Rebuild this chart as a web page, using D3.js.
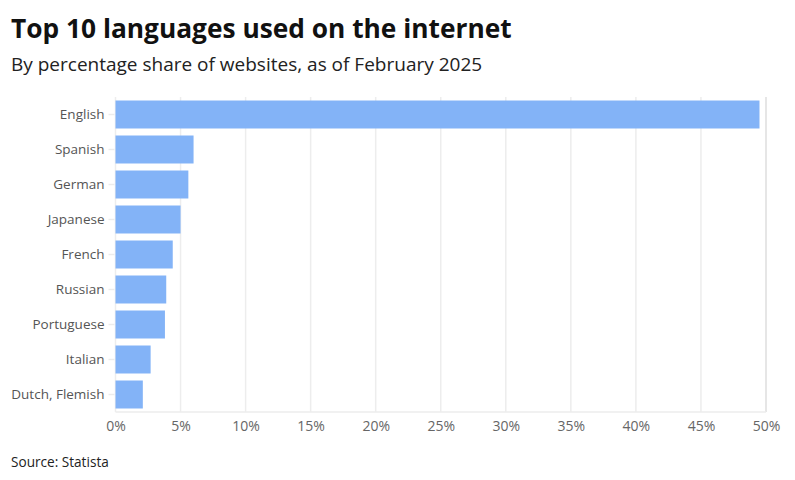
<!DOCTYPE html>
<html>
<head>
<meta charset="utf-8">
<script src="https://cdn.jsdelivr.net/npm/d3@7"></script>
<style>
  body { margin: 0; background: #fff; }
  text { font-family: "Open Sans", "Noto Sans", sans-serif; }
</style>
</head>
<body>
<div id="chart"></div>
<script>
// data
let languages = ['English', 'Spanish', 'German', 'Japanese', 'French', 'Russian', 'Portuguese', 'Italian', 'Dutch, Flemish'];
let shares = [49.5, 6.0, 5.6, 5.0, 4.4, 3.9, 3.8, 2.7, 2.1];
let xTicks = [0, 5, 10, 15, 20, 25, 30, 35, 40, 45, 50];

let W = 795, H = 480;
let margin = { top: 97, left: 115.5, right: 29, bottom: 68 };
let font = '"Open Sans", sans-serif';

let svg = d3.select('#chart').append('svg')
  .attr('width', W)
  .attr('height', H);

let x = d3.scaleLinear()
  .domain([0, 50])
  .range([margin.left, W - margin.right]);

let y = d3.scaleBand()
  .domain(languages)
  .range([margin.top, H - margin.bottom])
  .paddingInner(0.2)
  .paddingOuter(0.1);

// gridlines
svg.append('g')
  .selectAll('line')
  .data(xTicks)
  .join('line')
  .attr('x1', d => x(d)).attr('x2', d => x(d))
  .attr('y1', margin.top).attr('y2', H - margin.bottom)
  .attr('stroke', d => d == 50 ? '#e6e6e6' : '#ededed')
  .attr('stroke-width', d => d == 50 ? 2 : 1.5);

// baseline
svg.append('line')
  .attr('x1', margin.left).attr('x2', W - margin.right)
  .attr('y1', H - margin.bottom).attr('y2', H - margin.bottom)
  .attr('stroke', '#ededed')
  .attr('stroke-width', 1.5);

// bars
svg.append('g')
  .selectAll('rect')
  .data(languages)
  .join('rect')
  .attr('x', x(0))
  .attr('y', d => y(d))
  .attr('width', (d, i) => x(shares[i]) - x(0))
  .attr('height', y.bandwidth())
  .attr('fill', '#83b3f7');

// y axis
let yAxis = svg.append('g')
  .attr('transform', `translate(${margin.left - 1},0)`)
  .call(d3.axisLeft(y).tickSize(6).tickPadding(4));
yAxis.select('.domain').remove();
yAxis.selectAll('.tick line').attr('stroke', '#ececec').attr('stroke-width', 1.5);
yAxis.selectAll('.tick text')
  .attr('fill', '#555')
  .style('font-size', '13.5px')
  .style('font-family', font);

// x axis
let xAxis = svg.append('g')
  .attr('transform', `translate(0,${H - margin.bottom})`)
  .call(d3.axisBottom(x).tickValues(xTicks).tickFormat(d => d + '%').tickSize(0).tickPadding(9));
xAxis.select('.domain').remove();
xAxis.selectAll('.tick text')
  .attr('fill', '#666')
  .style('font-size', '14px')
  .style('font-family', font);

// titles
svg.append('text')
  .attr('x', 11).attr('y', 38)
  .attr('font-size', 26.3)
  .attr('font-weight', 700)
  .attr('fill', '#111')
  .text('Top 10 languages used on the internet');

svg.append('text')
  .attr('x', 11).attr('y', 71)
  .attr('font-size', 19)
  .attr('fill', '#222')
  .text('By percentage share of websites, as of February 2025');

svg.append('text')
  .attr('x', 11).attr('y', 467)
  .attr('font-size', 13.6)
  .attr('fill', '#222')
  .text('Source: Statista');
</script>
</body>
</html>
